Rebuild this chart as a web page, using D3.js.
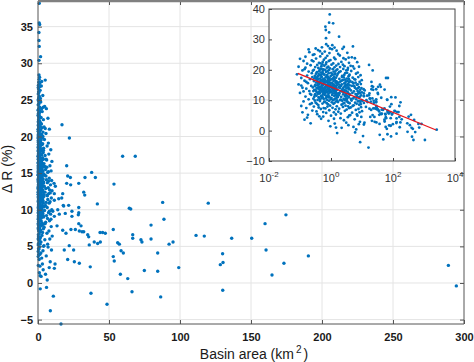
<!DOCTYPE html>
<html>
<head>
<meta charset="utf-8">
<script src="https://cdn.jsdelivr.net/npm/d3@7"></script>
<style>
body { margin: 0; background: #fff; }
svg { display: block; font-family: Arial, "Liberation Sans", sans-serif; }
</style>
</head>
<body>
<div id="chart"></div>
<script>
// basins smaller than 10 km2 -> [area km2, delta R %]
var smallBasins = [
  [0.08,18.5],[0.09,15.2],[0.09,21.0],[0.10,12.4],[0.10,23.6],[0.11,8.1],[0.11,17.3],[0.12,6.0],[0.12,19.8],[0.12,14.1],
  [0.13,22.9],[0.13,9.6],[0.14,16.4],[0.14,3.6],[0.15,20.7],[0.15,11.2],[0.15,24.3],[0.16,13.8],[0.16,7.4],[0.17,18.1],
  [0.17,22.0],[0.18,15.6],[0.18,5.2],[0.19,10.3],[0.19,19.4],[0.20,25.8],[0.20,13.0],[0.21,8.7],[0.21,16.9],[0.22,21.5],
  [0.22,2.4],[0.23,14.7],[0.23,11.8],[0.24,18.9],[0.24,23.1],[0.25,6.6],[0.25,17.6],[0.13,12.9],[0.17,4.3],[0.19,26.7],
  [0.11,14.8],[0.14,20.2],[0.21,12.1],[0.24,9.0],[0.16,16.0],
  [0.26,14.2],[0.26,19.7],[0.27,10.5],[0.27,22.8],[0.28,16.3],[0.28,7.9],[0.29,13.4],[0.29,25.1],[0.30,18.0],[0.30,11.7],
  [0.31,15.0],[0.31,20.9],[0.32,9.2],[0.32,17.4],[0.33,13.1],[0.33,23.7],[0.34,6.3],[0.34,16.8],[0.35,19.2],[0.35,12.6],
  [0.36,14.9],[0.36,21.6],[0.37,10.1],[0.37,17.9],[0.38,15.4],[0.38,26.5],[0.39,8.4],[0.39,13.8],[0.40,18.6],[0.40,11.0],
  [0.41,16.1],[0.41,22.3],[0.42,14.4],[0.42,4.7],[0.43,19.9],[0.43,12.2],[0.44,17.1],[0.44,9.7],[0.45,15.7],[0.45,24.4],
  [0.46,13.3],[0.46,20.4],[0.47,7.1],[0.47,16.6],[0.48,18.3],[0.48,11.4],[0.49,14.6],[0.49,21.2],[0.50,10.8],[0.50,17.7],
  [0.51,15.2],[0.51,27.4],[0.52,12.9],[0.52,19.0],[0.53,8.9],[0.53,16.4],[0.54,14.0],[0.54,22.6],[0.55,11.9],[0.55,18.8],
  [0.56,13.6],[0.56,6.1],[0.57,17.0],[0.57,20.1],[0.58,15.9],[0.58,10.4],[0.59,12.7],[0.59,23.3],[0.60,16.2],[0.60,9.4],
  [0.27,13.0],[0.29,17.2],[0.31,12.0],[0.33,18.7],[0.35,8.8],[0.37,14.1],[0.39,20.6],[0.41,12.8],[0.43,15.5],[0.45,10.2],
  [0.47,13.9],[0.49,17.6],[0.51,11.3],[0.53,21.8],[0.55,14.8],[0.57,12.3],[0.59,16.9],[0.28,20.0],[0.30,14.7],[0.32,13.2],
  [0.34,11.5],[0.36,17.3],[0.38,12.1],[0.40,15.1],[0.42,18.2],[0.44,13.5],[0.46,16.0],[0.48,14.3],[0.50,13.0],[0.52,16.7],
  [0.54,10.9],[0.56,15.3],[0.58,18.5],[0.60,13.4],[0.26,24.9],[0.32,27.0],[0.36,5.4],[0.44,26.1],[0.48,3.9],[0.52,25.3],
  [0.56,4.6],[0.30,9.9],[0.40,7.6],[0.46,22.1],[0.54,19.6],[0.58,7.4],[0.34,14.0],[0.38,17.0],[0.42,10.7],[0.50,20.3],
  [0.58,12.9],[0.33,15.8],[0.45,12.5],[0.55,16.3],[0.29,11.1],[0.41,19.5],[0.53,13.7],[0.47,19.1],[0.39,15.9],[0.35,16.5],
  [0.91,38.2],[1.17,35.3],[0.87,35.5],[0.66,34.2],[0.68,33.1],[0.87,32.3],[0.69,30.4],[1.82,30.9],
  [0.61,15.6],[0.61,21.3],[0.62,11.8],[0.62,18.4],[0.63,13.9],[0.63,26.0],[0.64,9.5],[0.64,16.7],[0.65,14.3],[0.65,20.0],
  [0.66,12.4],[0.66,7.3],[0.67,17.5],[0.67,23.9],[0.68,15.0],[0.68,10.6],[0.69,13.2],[0.69,19.3],[0.70,16.1],[0.70,5.8],
  [0.71,11.5],[0.71,22.4],[0.72,14.6],[0.72,17.8],[0.73,9.0],[0.73,15.9],[0.74,12.7],[0.74,20.7],[0.75,18.2],[0.75,13.5],
  [0.76,10.1],[0.76,24.6],[0.77,16.4],[0.77,7.9],[0.78,14.0],[0.78,19.6],[0.79,11.2],[0.79,17.1],[0.80,13.7],[0.80,27.8],
  [0.81,15.3],[0.81,8.6],[0.82,21.0],[0.82,12.0],[0.83,16.8],[0.83,3.2],[0.84,14.8],[0.84,18.9],[0.85,10.9],[0.85,22.9],
  [0.86,13.0],[0.86,16.0],[0.87,9.8],[0.87,19.9],[0.88,15.2],[0.88,6.7],[0.89,12.5],[0.89,25.5],[0.90,17.3],[0.90,11.0],
  [0.92,14.2],[0.92,20.5],[0.94,8.2],[0.94,16.6],[0.96,13.3],[0.96,23.2],[0.98,18.0],[0.98,10.3],[1.00,15.7],[1.00,4.9],
  [1.02,12.8],[1.02,19.0],[1.04,21.7],[1.04,14.5],[1.06,9.3],[1.06,16.9],[1.08,11.7],[1.08,26.8],[1.10,13.8],[1.10,18.6],
  [1.12,7.5],[1.12,15.4],[1.14,20.2],[1.14,12.2],[1.16,10.0],[1.16,17.2],[1.18,14.7],[1.18,22.1],[1.20,8.8],[1.20,16.3],
  [1.22,12.9],[1.22,19.4],[1.24,6.0],[1.24,13.6],[1.26,17.7],[1.26,24.0],[1.28,11.4],[1.28,15.1],[1.30,9.1],[1.30,20.8],
  [1.32,14.1],[1.32,2.3],[1.34,16.5],[1.34,12.3],[1.36,18.8],[1.36,10.5],[1.38,13.1],[1.38,23.5],[1.40,7.0],[1.40,15.8],
  [1.42,11.9],[1.42,19.7],[1.44,14.4],[1.44,5.3],[1.46,17.4],[1.46,12.6],[1.48,9.6],[1.48,21.4],[1.50,13.4],[1.50,16.2],
  [1.52,10.8],[1.52,26.3],[1.54,14.9],[1.54,8.0],[1.56,18.1],[1.56,12.1],[1.58,15.5],[1.58,-0.8],[1.60,11.3],[1.60,20.1],
  [0.64,12.9],[0.72,11.1],[0.80,17.6],[0.88,13.6],[0.96,15.0],[1.04,10.7],[1.12,18.3],[1.20,13.9],[1.28,17.0],[1.36,14.6],
  [1.44,11.6],[1.52,15.9],[0.68,21.8],[0.76,14.4],[0.84,11.4],[0.92,27.0],[1.00,12.6],[1.08,15.6],[1.16,13.2],[1.24,10.2],
  [1.32,18.5],[1.40,12.8],[1.48,14.0],[1.56,9.9],[0.70,28.4],[1.10,28.1],[1.30,27.3],[0.95,1.4],[1.25,3.9],[1.45,1.0],
  [1.62,13.5],[1.65,18.7],[1.68,9.4],[1.71,15.8],[1.74,21.9],[1.77,11.6],[1.80,14.3],[1.83,7.2],[1.86,17.0],[1.89,12.2],
  [1.92,24.7],[1.95,10.0],[1.98,16.1],[2.01,13.0],[2.04,19.5],[2.07,5.6],[2.10,14.7],[2.13,11.1],[2.16,22.6],[2.19,8.5],
  [2.22,15.2],[2.25,12.9],[2.28,18.0],[2.31,9.8],[2.34,26.9],[2.37,13.7],[2.40,16.6],[2.43,7.8],[2.46,11.9],[2.49,20.3],
  [2.52,14.1],[2.55,10.4],[2.58,17.5],[2.61,3.4],[2.64,12.6],[2.67,15.5],[2.70,9.1],[2.73,21.2],[2.76,13.3],[2.79,6.5],
  [2.82,16.8],[2.85,11.3],[2.88,18.9],[2.91,14.5],[2.94,8.2],[2.97,23.4],[3.00,12.0],[3.04,15.0],[3.08,10.6],[3.12,19.8],
  [3.16,13.9],[3.20,6.9],[3.24,17.1],[3.28,11.5],[3.32,14.8],[3.36,25.6],[3.40,9.5],[3.44,16.3],[3.48,12.4],[3.52,20.6],
  [3.56,8.0],[3.60,14.2],[3.64,1.8],[3.68,17.8],[3.72,10.9],[3.76,13.6],[3.80,22.3],[3.84,7.4],[3.88,15.9],[3.92,12.1],
  [3.96,18.4],[4.00,9.0],[1.64,11.0],[1.72,6.2],[1.82,19.2],[1.94,14.0],[2.06,10.2],[2.18,16.4],[2.30,13.4],[2.42,21.7],
  [2.56,12.8],[2.68,18.3],[2.80,10.1],[2.92,15.7],[3.06,13.1],[3.18,9.7],[3.30,19.0],[3.42,12.7],[3.54,15.3],[3.66,11.2],
  [3.78,16.9],[3.90,5.0],[1.70,25.2],[2.20,0.9],[2.60,27.5],[3.10,2.6],[3.50,4.4],[1.85,15.1],[2.45,8.9],[2.95,11.8],
  [3.45,20.0],[3.95,13.8],[1.76,12.3],[2.26,17.6],[2.76,14.6],[3.26,10.4],[3.86,18.1],[2.02,4.1],[2.52,23.8],[3.02,16.2],
  [3.62,9.2],[1.96,20.9],
  [4.1,11.8],[4.2,16.3],[4.3,7.6],[4.4,13.2],[4.5,19.6],[4.6,9.9],[4.7,14.7],[4.8,5.9],[4.9,12.4],[5.0,17.4],
  [5.1,27.7],[5.2,10.6],[5.3,15.5],[5.4,8.3],[5.5,12.9],[5.6,20.4],[5.7,11.0],[5.8,3.7],[5.9,14.1],[6.0,9.2],
  [6.1,16.8],[6.2,12.0],[6.3,6.8],[6.4,18.7],[6.5,10.3],[6.6,13.7],[6.7,8.8],[6.8,15.1],[6.9,11.4],[7.0,22.5],
  [7.1,4.9],[7.2,13.0],[7.3,15.2],[7.4,9.6],[7.5,12.2],[7.6,17.6],[7.7,7.1],[7.8,10.9],[7.9,14.3],[8.0,21.0],
  [8.1,8.5],[8.2,12.7],[8.3,6.0],[8.4,16.0],[8.5,11.1],[8.6,2.9],[8.7,-3.8],[8.8,13.4],[8.9,9.4],[9.0,18.2],
  [9.2,15.3],[9.3,7.7],[9.4,11.6],[9.5,4.5],[9.6,14.0],[9.7,10.0],[9.8,16.6],[9.9,12.6],[10.0,6.4],[4.3,21.3],
  [4.7,24.1],[5.3,1.2],[5.9,23.8],[6.5,0.4],[7.3,19.1],[7.9,2.1],[4.4,10.4],[5.0,8.1],[5.6,14.6],[6.2,15.8],
  [6.8,5.3],[7.4,13.9],[8.0,9.8],[8.6,12.3],[9.1,8.7],[4.2,5.1],[4.9,15.9],[5.7,16.9],[6.6,11.9],[3.7,24.0],
  [4.0,14.9],[6.0,-0.6],[5.1,21.1]
];

// basins 10 - 300 km2
var largeBasins = [
  [16.9,21.6],[22.1,19.8],[59.6,17.3],[68.5,17.3],[20.2,16.0],[37.8,15.1],[20.9,14.6],[22.8,14.4],[33.1,14.4],[40.4,14.4],
  [11.3,13.6],[12.2,13.2],[20.2,13.6],[23.0,13.4],[28.7,13.6],[53.5,13.5],[32.2,12.4],[32.9,12.0],[17.4,12.2],[16.7,11.6],
  [11.5,12.2],[14.6,11.5],[11.5,11.3],[41.8,10.8],[21.6,10.6],[17.8,10.6],[18.1,10.5],[28.7,10.3],[28.7,9.6],[64.3,10.2],
  [65.3,10.1],[13.9,10.0],[15.0,9.4],[19.2,9.5],[23.9,9.8],[23.9,9.1],[10.4,9.8],[11.5,9.1],[28.4,9.3],[79.6,7.9],
  [28.7,8.1],[30.3,7.8],[31.0,7.0],[13.4,7.8],[17.4,7.2],[19.7,6.8],[23.2,7.3],[26.3,7.3],[29.1,7.1],[32.2,7.0],
  [35.0,6.6],[35.7,6.3],[53.0,7.3],[43.7,6.9],[45.5,6.9],[47.4,6.8],[66.7,6.6],[66.7,6.1],[72.5,5.9],[73.2,5.6],
  [79.6,6.0],[39.6,5.6],[43.9,5.6],[42.0,5.4],[36.1,5.2],[56.1,5.5],[57.3,5.3],[22.0,5.1],[18.5,4.5],[25.1,4.5],
  [58.5,4.4],[60.1,4.1],[53.0,3.6],[53.7,3.0],[20.9,3.2],[25.6,2.9],[29.1,2.7],[36.8,2.2],[12.0,2.6],[11.5,2.0],
  [74.9,1.7],[58.0,1.2],[63.2,0.6],[66.2,-1.2],[37.3,-1.4],[10.8,-1.8],[48.6,-2.9],[16.2,-5.6],
  [87.8,11.0],[119.9,10.9],[88.7,8.7],[111.3,6.5],[117.1,6.4],[136.4,6.1],[150.5,6.1],[92.3,5.3],[95.1,5.6],[159.9,8.1],
  [174.6,9.3],[160.6,4.5],[84.3,4.1],[130.0,4.0],[130.3,2.8],[128.4,2.5],[99.1,2.1],[84.3,1.6],[173.2,2.7],[164.8,1.1],
  [190.4,3.7],[130.1,-1.0],[86.4,-1.9],[289.0,2.4],[294.6,-0.4]
];

// basins beyond the main x range, seen only in the inset
var hugeBasins = [
  [398,0.9],[437,0.6],[457,-3.1],[660,2.2],[830,2.2],[1070,-3.1],[2570,0.3],[320,4.6],[350,1.8],[480,3.5],
  [520,-0.5],[700,1.0],[380,5.2],[410,-2.0]
];

// least squares line in the inset (log10 area)
var fitArea = [0.085, 2450];
var fitDR = [18.8, 0.2];

var xTicks = [0, 50, 100, 150, 200, 250, 300];
var yTicks = [-5, 0, 5, 10, 15, 20, 25, 30, 35];
var insetXExp = [-2, 0, 2, 4];
var insetYTicks = [-10, 0, 10, 20, 30, 40];

var w = 474, h = 362;
var box = { left: 38, right: 464, top: 1, bottom: 324 };
var ibox = { left: 269, right: 455, top: 9, bottom: 161 };
var dotColor = '#0072BD';

var svg = d3.select('#chart')
    .append('svg')
    .attr('width', w)
    .attr('height', h);

var xScale = d3.scaleLinear().domain([0, 300]).range([box.left, box.right]);
var yScale = d3.scaleLinear().domain([-5.6, 38.5]).range([box.bottom, box.top]);

// grid
svg.append('g').selectAll('line')
    .data(xTicks.slice(1, -1))
    .enter().append('line')
    .attr('x1', d => xScale(d)).attr('x2', d => xScale(d))
    .attr('y1', box.top).attr('y2', box.bottom)
    .attr('stroke', '#e4e4e4');
svg.append('g').selectAll('line')
    .data(yTicks)
    .enter().append('line')
    .attr('x1', box.left).attr('x2', box.right)
    .attr('y1', d => yScale(d)).attr('y2', d => yScale(d))
    .attr('stroke', '#e4e4e4');

// main scatter
var mainPts = smallBasins.concat(largeBasins).filter(d => d[0] <= 300);
svg.append('g').selectAll('circle')
    .data(mainPts)
    .enter().append('circle')
    .attr('cx', d => xScale(d[0]))
    .attr('cy', d => yScale(d[1]))
    .attr('r', 1.7)
    .attr('fill', dotColor);

// axes, ticks pointing in
var xAxis = svg.append('g')
    .attr('transform', `translate(0,${box.bottom})`)
    .call(d3.axisBottom(xScale).tickValues(xTicks).tickSize(-4).tickPadding(9.5));
var yAxis = svg.append('g')
    .attr('transform', `translate(${box.left},0)`)
    .call(d3.axisLeft(yScale).tickValues(yTicks).tickSize(-4).tickPadding(5));
svg.append('g')
    .attr('transform', `translate(${box.right},0)`)
    .call(d3.axisRight(yScale).tickValues(yTicks).tickSize(-4).tickFormat(''));
svg.append('g')
    .attr('transform', `translate(0,${box.top})`)
    .call(d3.axisTop(xScale).tickValues(xTicks).tickSize(-4).tickFormat(''));
svg.selectAll('.domain').remove();
svg.selectAll('.tick line').attr('stroke', '#555');
[xAxis, yAxis].forEach(function (g) {
    g.selectAll('text')
        .attr('font-size', 11)
        .attr('font-weight', 'bold')
        .attr('font-family', 'Arial, "Liberation Sans", sans-serif')
        .attr('fill', '#1a1a1a');
});

// frame
svg.append('path')
    .attr('d', `M${box.left},${box.top}V${box.bottom}H${box.right}V${box.top}`)
    .attr('fill', 'none').attr('stroke', '#555');
svg.append('line')
    .attr('x1', box.left).attr('x2', box.right)
    .attr('y1', 1).attr('y2', 1)
    .attr('stroke', '#808080').attr('stroke-width', 2.5);

// labels
var xl = svg.append('text')
    .attr('x', 254).attr('y', 359)
    .attr('text-anchor', 'middle')
    .attr('font-size', 14)
    .attr('fill', '#1a1a1a');
xl.append('tspan').text('Basin area (km');
xl.append('tspan').attr('font-size', 10).attr('dy', -6).attr('dx', 2).text('2');
xl.append('tspan').attr('dy', 6).attr('dx', 2).text(')');

svg.append('text')
    .attr('transform', 'translate(12,169) rotate(-90)')
    .attr('text-anchor', 'middle')
    .attr('font-size', 14)
    .attr('fill', '#1a1a1a')
    .text('\u0394 R (%)');

// inset
var xi = d3.scaleLog().domain([1e-2, 1e4]).range([ibox.left, ibox.right]);
var yi = d3.scaleLinear().domain([-10, 40]).range([ibox.bottom, ibox.top]);
var ins = svg.append('g');

ins.append('rect')
    .attr('x', ibox.left).attr('y', ibox.top)
    .attr('width', ibox.right - ibox.left).attr('height', ibox.bottom - ibox.top)
    .attr('fill', '#fff');

ins.append('g').selectAll('circle')
    .data(smallBasins.concat(largeBasins, hugeBasins))
    .enter().append('circle')
    .attr('cx', d => xi(d[0]))
    .attr('cy', d => yi(d[1]))
    .attr('r', 1.4)
    .attr('fill', dotColor);

ins.append('line')
    .attr('x1', xi(fitArea[0])).attr('y1', yi(fitDR[0]))
    .attr('x2', xi(fitArea[1])).attr('y2', yi(fitDR[1]))
    .attr('stroke', '#e8151b').attr('stroke-width', 1.3);

var iy = ins.append('g')
    .attr('transform', `translate(${ibox.left},0)`)
    .call(d3.axisLeft(yi).tickValues(insetYTicks).tickSize(-3).tickPadding(4));
ins.append('g')
    .attr('transform', `translate(0,${ibox.bottom})`)
    .call(d3.axisBottom(xi).tickValues(insetXExp.map(e => Math.pow(10, e))).tickSize(-3).tickFormat(''));
ins.selectAll('.domain').remove();
ins.selectAll('.tick line').attr('stroke', '#444');
iy.selectAll('text')
    .attr('font-size', 11)
    .attr('font-family', 'Arial, "Liberation Sans", sans-serif')
    .attr('fill', '#333');

var ixl = ins.append('g').selectAll('text')
    .data(insetXExp)
    .enter().append('text')
    .attr('x', d => xi(Math.pow(10, d)))
    .attr('y', 182)
    .attr('text-anchor', 'middle')
    .attr('font-size', 11)
    .attr('fill', '#333');
ixl.append('tspan').text('10');
ixl.append('tspan').attr('font-size', 8).attr('dy', -5).text(d => d < 0 ? '-' + (-d) : d);

ins.append('rect')
    .attr('x', ibox.left).attr('y', ibox.top)
    .attr('width', ibox.right - ibox.left).attr('height', ibox.bottom - ibox.top)
    .attr('fill', 'none').attr('stroke', '#444');
</script>
</body>
</html>
